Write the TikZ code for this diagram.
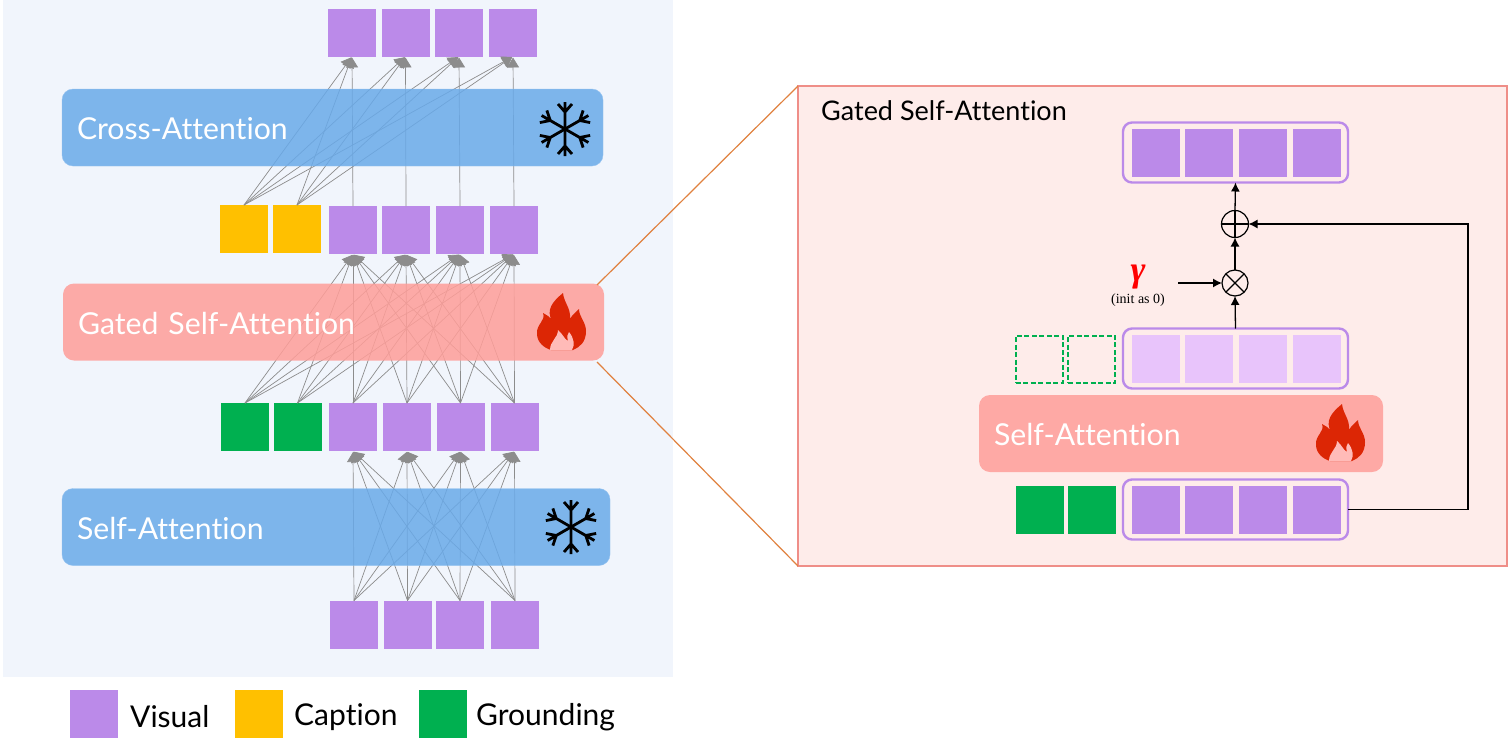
\documentclass[tikz,border=0pt]{standalone}
\usepackage{amsmath}
\usepackage{fontspec}
\setmainfont[Ligatures=NoCommon]{Lato}
\newfontfamily\initfont{Liberation Serif}
\usetikzlibrary{arrows.meta,calc}
\definecolor{visual}{HTML}{BB8AE9}
\definecolor{faded}{HTML}{E8C4FB}
\definecolor{caption}{HTML}{FFC000}
\definecolor{grounding}{HTML}{00B050}
\definecolor{panelbg}{HTML}{F1F5FC}
\definecolor{zoombg}{HTML}{FEECEA}
\definecolor{zoomedge}{HTML}{EF8E88}
\definecolor{zoomline}{HTML}{E0813F}
\definecolor{frozen}{HTML}{69AAE9}
\definecolor{trained}{HTML}{FF9E99}
\definecolor{flamered}{HTML}{DC2605}
\tikzset{
  cell/.style={minimum width=48pt,minimum height=48pt,inner sep=0pt,outer sep=0pt,fill=#1},
  cell/.default=visual,
  conn/.style={draw=gray!90,line width=.7pt,shorten >=1pt,-{Triangle[length=10pt,width=12pt]}},
  block/.style={rounded corners=11pt,minimum height=77pt,inner xsep=15pt,inner ysep=0pt,outer sep=0pt,
    align=left,text=white,font=\fontsize{30.2}{30.2}\selectfont,text height=24pt,text depth=0pt,
    fill=#1,fill opacity=.85,text opacity=1},
  frame/.style={draw=visual,line width=2.4pt,rounded corners=9pt,minimum width=225pt,minimum height=60pt,outer sep=0pt},
  link/.style={black,line width=1.3pt,-{Latex[length=9pt,width=9pt]}},
  oper/.style={circle,draw=black,line width=1.2pt,minimum size=27pt,inner sep=0pt,outer sep=0pt},
  legend/.style={anchor=west,inner sep=0pt,font=\fontsize{30}{30}\selectfont},
  snowflake/.pic={
    \foreach \a in {30,90,...,330} {
      \draw[black,line width=2.8pt,rotate=\a] (0,0) -- (27,0)
        (17,0) -- +(8,7) (17,0) -- +(8,-7);
    }
  },
  flame/.pic={
    % outer shape
    \fill[flamered] (2,-29) .. controls (-9,-20) and (-15,-12) .. (-9,-1)
      .. controls (-11,-6) and (-15,-7) .. (-18,-9)
      .. controls (-15,-1) and (-25,2) .. (-24,12)
      .. controls (-24,20) and (-17,26) .. (-10,28)
      -- (12,28) .. controls (19,25) and (25,20) .. (25,9)
      .. controls (25,0) and (18,-5) .. (18,-13)
      .. controls (14,-9) and (11,-7) .. (9,-3)
      .. controls (10,-14) and (3,-19) .. (2,-29) -- cycle;
    % inner shape
    \fill[#1] (-11,28) .. controls (-11,19) and (-3,16) .. (-3,8)
      .. controls (2,12) and (3,17) .. (7,19)
      .. controls (6,15) and (6,12) .. (8,10)
      .. controls (13,16) and (14,23) .. (11,28) -- cycle;
  },
}

\begin{document}
\begin{tikzpicture}[x=1pt,y=-1pt]
    \useasboundingbox (0,0) rectangle (1509,742);

    % Backgrounds
    \fill[panelbg] (3,0) rectangle (673,677);
    \node[draw=zoomedge,fill=zoombg,line width=1.2pt,minimum width=709pt,minimum height=480pt,inner sep=0pt,outer sep=0pt]
      (zoom) at (1152.5,326) {};
    \node[anchor=west,inner sep=0pt,font=\fontsize{27}{27}\selectfont] (zoomtitle) at (821,111) {Gated Self-Attention};

    % Left stack
    \foreach \i/\x in {1/352,2/405.5,3/459,4/513}
      \node[cell] (top\i) at (\x,32.5) {};
    \foreach \i/\x in {1/244,2/297}
      \node[cell=caption] (capt\i) at (\x,229) {};
    \foreach \i/\x in {1/353,2/406,3/460,4/514}
      \node[cell] (midl\i) at (\x,230) {};
    \foreach \i/\x in {1/245,2/297.5}
      \node[cell=grounding] (grnd\i) at (\x,427) {};
    \foreach \i/\x in {1/353,2/407,3/460.5,4/514.5}
      \node[cell] (vis\i) at (\x,427) {};
    \foreach \i/\x in {1/354,2/407.5,3/460,4/515}
      \node[cell] (inp\i) at (\x,624.5) {};

    % Connectors
    \foreach \i in {1,...,4} {
      \draw[conn] (midl\i.north) -- (top\i.south);
      \draw[conn] (capt1.north) -- (top\i.south);
      \draw[conn] (capt2.north) -- (top\i.south);
      \draw[conn] (grnd1.north) -- (midl\i.south);
      \draw[conn] (grnd2.north) -- (midl\i.south);
      \foreach \j in {1,...,4} {
        \draw[conn] (vis\j.north) -- (midl\i.south);
        \draw[conn] (inp\j.north) -- (vis\i.south);
      }
    }

    % Blocks
    \node[block=frozen,draw=frozen!70,text width=511pt] (cross) at (332.5,127.5) {Cross-Attention};
    \node[block=trained,text width=511pt] (gated) at (333.5,322) {Gated Self-Attention};
    \node[block=frozen,draw=frozen!70,text width=518pt] (selfa) at (336,527) {Self-Attention};
    \pic at (565,129) {snowflake};
    \pic at (571,527) {snowflake};
    \pic at (561,322) {flame=trained!70};

    % Zoom lines
    \coordinate (gatedup) at (597,285);
    \coordinate (gateddown) at (597,362);
    \draw[zoomline,line width=1.2pt] (gatedup) -- (zoom.north west);
    \draw[zoomline,line width=1.2pt] (gateddown) -- (zoom.south west);

    % Right side
    \foreach \f/\y in {outf/152.5,midf/358.5,inf/509.5}
      \node[frame] (\f) at (1235.5,\y) {};
    \foreach \i/\x in {1/1155.5,2/1209,3/1263,4/1317}
      \node[cell] (out\i) at (\x,152.5) {};
    \foreach \i/\x in {1/1155.5,2/1209,3/1263,4/1316.5} {
      \node[cell=faded] (att\i) at (\x,359) {};
      \node[cell] (src\i) at (\x,510) {};
    }
    \foreach \i/\x in {1/1039,2/1091.5}
      \node[draw=grounding,line width=2pt,dash pattern=on 5pt off 2.5pt,minimum size=47pt,inner sep=0pt,outer sep=0pt]
        (slot\i) at (\x,359) {};
    \foreach \i/\x in {1/1039.5,2/1092}
      \node[cell=grounding] (tok\i) at (\x,510) {};
    \node[block=trained,text width=374pt] (selfz) at (1181,433.5) {Self-Attention};
    \pic at (1340,433) {flame=trained!70};

    \node[oper] (plus) at (1235,224) {};
    \node[oper,minimum size=26pt] (times) at (1235,283) {};
    \draw[black,line width=1.2pt] (plus.north) -- (plus.south) (plus.west) -- (plus.east);
    \draw[black,line width=1.2pt] (times.north west) -- (times.south east) (times.north east) -- (times.south west);

    \draw[link] (midf.north) -- (times.south);
    \draw[link] (times.north) -- (plus.south);
    \draw[link] (plus.north) -- (outf.south);
    \coordinate (turn) at (1468,509.5);
    \draw[link] (inf.east) -- (turn) |- (plus.east);

    \node[inner sep=0pt,text=red,font=\initfont\bfseries\itshape\fontsize{36}{36}\selectfont] (gamma) at (1138,277) {γ};
    \node[inner sep=0pt,font=\initfont\fontsize{14}{14}\selectfont] (init) at (1138,300) {(init as 0)};
    \coordinate (gammaout) at (1178,283);
    \draw[link] (gammaout) -- (times.west);

    % Legend
    \node[cell] (legv) at (94,714) {};
    \node[cell=caption] (legc) at (258.5,714) {};
    \node[cell=grounding] (legg) at (443,714) {};
    \node[legend] (legvt) at (130,717) {Visual};
    \node[legend] (legct) at (294,717) {Caption};
    \node[legend] (leggt) at (476,717) {Grounding};
\end{tikzpicture}
\end{document}
